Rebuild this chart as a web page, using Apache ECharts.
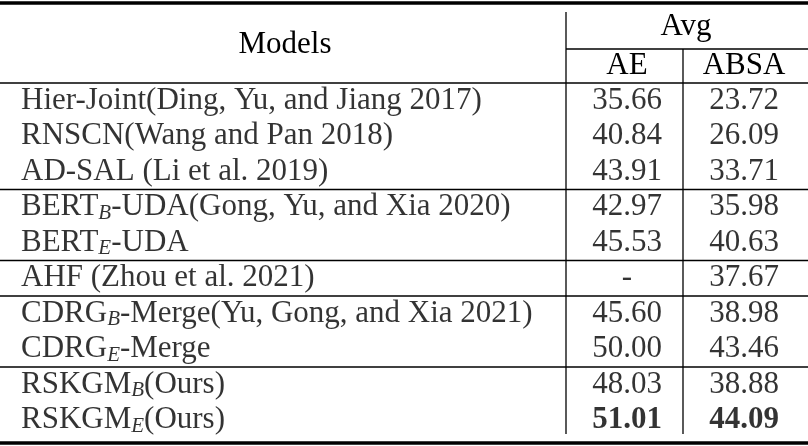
<!DOCTYPE html>
<html><head><meta charset="utf-8">
<script src="https://cdn.jsdelivr.net/npm/echarts@6/dist/echarts.min.js"></script>
<style>html,body{margin:0;padding:0;background:#fff}#c{width:808px;height:446px}</style>
</head><body><div id="c"></div>
<script>
const models = ['Hier-Joint(Ding, Yu, and Jiang 2017)','RNSCN(Wang and Pan 2018)','AD-SAL (Li et al. 2019)',
 'BERT_B-UDA(Gong, Yu, and Xia 2020)','BERT_E-UDA','AHF (Zhou et al. 2021)',
 'CDRG_B-Merge(Yu, Gong, and Xia 2021)','CDRG_E-Merge','RSKGM_B(Ours)','RSKGM_E(Ours)'];
const ae = ['35.66','40.84','43.91','42.97','45.53','-','45.60','50.00','48.03','51.01'];
const absa = ['23.72','26.09','33.71','35.98','40.63','37.67','38.98','43.46','38.88','44.09'];
const boldRow = 9;
const groupEnds = [2,4,5,7]; // separator after these rows

const F = '"Liberation Serif","DejaVu Serif",serif';
const FS = 31;
const chart = echarts.init(document.getElementById('c'));
const rows = models.map((_, i) => String(i));
function fmtModel(s){ return s.replace(/_([BE])/, '{sub|$1}'); }
const rich = { sub:{fontFamily:F,fontSize:21,fontStyle:'italic',padding:[12,0,0,0],color:'#000'},
               b:{fontFamily:F,fontSize:FS,fontWeight:'bold',color:'#000'} };
const lbl = (align) => ({show:true,position:'inside',align:align,verticalAlign:'middle',fontFamily:F,fontSize:FS,color:'#000',rich:rich});
const colX = {model:21, ae:627, absa:744};
chart.setOption({
  animation:false,
  grid:{left:0,right:0,top:83,height:355},
  xAxis:{type:'value',min:0,max:808,show:false},
  yAxis:{type:'category',data:rows,inverse:true,show:false},
  series:[
    {type:'scatter',symbolSize:0,data:models.map((m,i)=>({value:[colX.model,i],label:{formatter:fmtModel(m)}})),label:lbl('left')},
    {type:'scatter',symbolSize:0,data:ae.map((v,i)=>({value:[colX.ae,i],label:{formatter:i===boldRow?'{b|'+v+'}':v}})),label:lbl('center')},
    {type:'scatter',symbolSize:0,data:absa.map((v,i)=>({value:[colX.absa,i],label:{formatter:i===boldRow?'{b|'+v+'}':v}})),label:lbl('center')}
  ]
});
const yOf = i => chart.convertToPixel({yAxisIndex:0}, String(i));
const band = 35.5;
const g = [];
const line = (x1,y1,x2,y2,w) => g.push({type:'line',shape:{x1,y1,x2,y2},style:{stroke:'#000',lineWidth:w}});
line(0,3,808,3,3.5);
line(0,443,808,443,3.5);
line(0,83,808,83,1.5);
line(566,49,808,49,1.5);
line(566,12,566,434,1.3);
line(683,49,683,434,1.3);
groupEnds.forEach(i => { const y = yOf(i)+band/2; line(0,y,808,y,1.5); });
g.push({type:'text',x:285,y:45,style:{text:'Models',font:FS+'px '+F,fill:'#000',align:'center',verticalAlign:'middle'}});
g.push({type:'text',x:686,y:27,style:{text:'Avg',font:FS+'px '+F,fill:'#000',align:'center',verticalAlign:'middle'}});
g.push({type:'text',x:colX.ae,y:66,style:{text:'AE',font:FS+'px '+F,fill:'#000',align:'center',verticalAlign:'middle'}});
g.push({type:'text',x:colX.absa,y:66,style:{text:'ABSA',font:FS+'px '+F,fill:'#000',align:'center',verticalAlign:'middle'}});
chart.setOption({graphic:g});
</script></body></html>
